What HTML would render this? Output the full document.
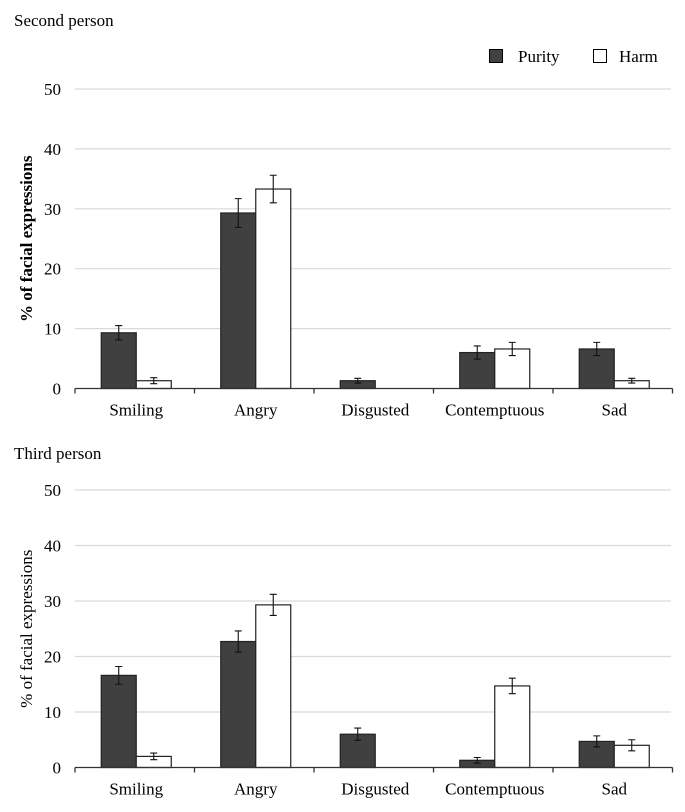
<!DOCTYPE html>
<html><head><meta charset="utf-8"><style>
body{margin:0;background:#fff;}
svg{display:block;font-family:"Liberation Serif",serif;}
</style></head><body>
<svg id="c" width="685" height="812">
<text x="14" y="26" font-size="17">Second person</text>
<text x="14" y="459" font-size="17">Third person</text>
<g>
<rect x="489.5" y="49.5" width="13" height="13" fill="#404040" stroke="#000"/>
<text x="518" y="62" font-size="17">Purity</text>
<rect x="593.5" y="49.5" width="13" height="13" fill="#fff" stroke="#000"/>
<text x="619" y="62" font-size="17">Harm</text>
</g>
</svg>
<script>
const categories=["Smiling","Angry","Disgusted","Contemptuous","Sad"];
const ticks=[0,10,20,30,40,50];
const purity2=[9.3,29.3,1.3,6.0,6.6];
const purity2Err=[1.2,2.4,0.4,1.1,1.1];
const harm2=[1.3,33.3,0,6.6,1.3];
const harm2Err=[0.5,2.3,0,1.1,0.4];
const purity3=[16.6,22.7,6.0,1.3,4.7];
const purity3Err=[1.6,1.9,1.1,0.5,1.0];
const harm3=[2.0,29.3,0,14.7,4.0];
const harm3Err=[0.6,1.9,0,1.4,1.0];
const svg=document.getElementById('c');
const NS='http://www.w3.org/2000/svg';
function mk(t,a){const e=document.createElementNS(NS,t);for(const k in a)e.setAttribute(k,a[k]);svg.appendChild(e);return e;}
function panel(id,y0,ppu,P,PE,H,HE,boldTitle){
  const x0=75,cw=119.5;
  const y=v=>y0-v*ppu;
  ticks.forEach(t=>{
    if(t>0){const g=mk('line',{x1:x0,x2:671,y1:y(t),y2:y(t),stroke:'#d9d9d9','stroke-width':1.2});
    
    }
    const l=mk('text',{x:61,y:y(t)+6,'font-size':17,'text-anchor':'end'});l.textContent=t;
    
    
  });
  const yt=mk('text',{transform:`translate(32,${y(25)}) rotate(-90)`,'font-size':17,'text-anchor':'middle','font-weight':boldTitle?'bold':'normal'});
  yt.textContent='% of facial expressions';
  
  
  categories.forEach((c,i)=>{
    const cx=x0+cw*(i+0.5)+1.5;
    [[P,PE,'#404040',cx-35,'purity'],[H,HE,'#fff',cx,'harm']].forEach(([arr,err,fill,bx,s])=>{
      const v=arr[i];
      if(v>0){const r=mk('rect',{x:bx,y:y(v),width:35,height:y0-y(v),fill:fill,stroke:'#222','stroke-width':1.2});
      
      }
      const e=err[i];
      if(e>0){const mx=bx+17.5;
        const eb=mk('path',{d:`M${mx},${y(v+e)}V${y(v-e)}M${mx-3.5},${y(v+e)}h7M${mx-3.5},${y(v-e)}h7`,stroke:'#111',fill:'none','stroke-width':1.1});
        
        }
    });
    const l=mk('text',{x:cx,y:y0+27,'font-size':17,'text-anchor':'middle'});l.textContent=c;
    
    
  });
  const ax=mk('path',{d:`M${x0},${y0}H${x0+cw*5}`+[0,1,2,3,4,5].map(k=>`M${x0+cw*k},${y0}v5`).join(''),stroke:'#333',fill:'none','stroke-width':1.3});
  
  
}
panel('second-person',388.5,5.99,purity2,purity2Err,harm2,harm2Err,true);
panel('third-person',767.5,5.55,purity3,purity3Err,harm3,harm3Err,false);
</script>
</body></html>
